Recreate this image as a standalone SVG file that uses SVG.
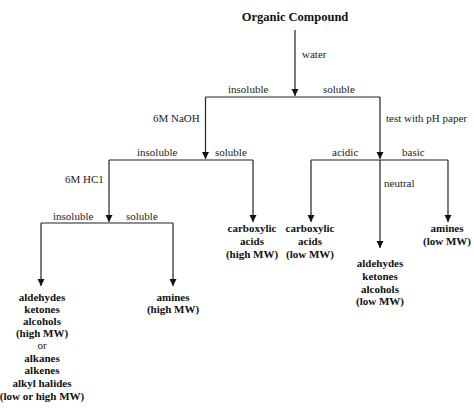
<svg xmlns="http://www.w3.org/2000/svg" width="474" height="409" viewBox="0 0 474 409">
<style>
text{font-family:'Liberation Serif','Times New Roman',Times,'DejaVu Serif',serif}
.lbl{font-size:11px;fill:#222}
.nd{font-size:11px;font-weight:bold;fill:#111;text-anchor:middle}
.ttl{font-size:12.5px;font-weight:bold;fill:#111;text-anchor:middle}
.c{stroke:#222;stroke-width:1.2;fill:none}
.a{marker-end:url(#ah)}
</style>
<defs>
<marker id="ah" markerUnits="userSpaceOnUse" markerWidth="8" markerHeight="8" refX="7" refY="3.5" orient="auto">
<path d="M0,0 L7,3.5 L0,7 z" fill="#111"/>
</marker>
</defs>
<rect width="474" height="409" fill="#fff"/>
<g id="connectors" font-family="Liberation Serif, serif">
<line class="c a" x1="295" y1="30" x2="295" y2="96"/>
<line class="c" x1="205.5" y1="97" x2="380" y2="97"/>
<line class="c a" x1="205.5" y1="97" x2="205.5" y2="159"/>
<line class="c a" x1="380" y1="97" x2="380" y2="159"/>
<line class="c" x1="109" y1="160" x2="253" y2="160"/>
<line class="c a" x1="109" y1="160" x2="109" y2="222"/>
<line class="c a" x1="253" y1="160" x2="253" y2="222"/>
<line class="c" x1="41" y1="223" x2="173" y2="223"/>
<line class="c a" x1="41" y1="223" x2="41" y2="286"/>
<line class="c a" x1="173" y1="223" x2="173" y2="286"/>
<line class="c" x1="311" y1="160" x2="448" y2="160"/>
<line class="c a" x1="311" y1="160" x2="311" y2="222"/>
<line class="c a" x1="448" y1="160" x2="448" y2="222"/>
<line class="c a" x1="380" y1="160" x2="380" y2="248"/>
<text class="lbl" x="302" y="58">water</text>
<text class="lbl" x="228" y="93">insoluble</text>
<text class="lbl" x="323" y="93">soluble</text>
<text class="lbl" x="153" y="122">6M NaOH</text>
<text class="lbl" x="386" y="122">test with pH paper</text>
<text class="lbl" x="137" y="156">insoluble</text>
<text class="lbl" x="215" y="156">soluble</text>
<text class="lbl" x="332" y="156">acidic</text>
<text class="lbl" x="402" y="156">basic</text>
<text class="lbl" x="384" y="187">neutral</text>
<text class="lbl" x="65" y="183">6M HC1</text>
<text class="lbl" x="53" y="220">insoluble</text>
<text class="lbl" x="126" y="220">soluble</text>
</g>
<g id="organic-compound">
<text class="ttl" x="295" y="21">Organic Compound</text>
</g>
<g id="insoluble-neutral">
<text class="nd" x="42" y="301">aldehydes</text>
<text class="nd" x="42" y="313">ketones</text>
<text class="nd" x="42" y="325">alcohols</text>
<text class="nd" x="42" y="337">(high MW)</text>
<text class="nd" x="42" y="349" style="font-weight:normal">or</text>
<text class="nd" x="42" y="362">alkanes</text>
<text class="nd" x="42" y="374">alkenes</text>
<text class="nd" x="42" y="387">alkyl halides</text>
<text class="nd" x="42" y="400">(low or high MW)</text>
</g>
<g id="amines-high">
<text class="nd" x="173" y="301">amines</text>
<text class="nd" x="173" y="313">(high MW)</text>
</g>
<g id="carboxylic-high">
<text class="nd" x="252" y="232">carboxylic</text>
<text class="nd" x="252" y="245">acids</text>
<text class="nd" x="252" y="258">(high MW)</text>
</g>
<g id="carboxylic-low">
<text class="nd" x="310" y="232">carboxylic</text>
<text class="nd" x="310" y="245">acids</text>
<text class="nd" x="310" y="258">(low MW)</text>
</g>
<g id="neutral-low">
<text class="nd" x="380" y="267">aldehydes</text>
<text class="nd" x="380" y="280">ketones</text>
<text class="nd" x="380" y="293">alcohols</text>
<text class="nd" x="380" y="305">(low MW)</text>
</g>
<g id="amines-low">
<text class="nd" x="447" y="232">amines</text>
<text class="nd" x="447" y="245">(low MW)</text>
</g>
</svg>
